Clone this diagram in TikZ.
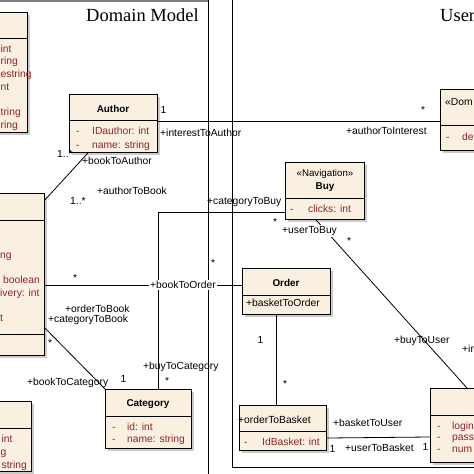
\documentclass[tikz,border=0pt]{standalone}
\usepackage{fontspec}
\setmainfont{Liberation Sans}
\newfontfamily\titlefont{Liberation Serif}
\usetikzlibrary{positioning}
\usetikzlibrary{shadows}
\definecolor{boxfill}{RGB}{250,240,226}
\definecolor{attrred}{RGB}{140,38,38}
\newcommand{\attrdash}[1]{\makebox[#1][l]{-}}

\begin{document}
\begin{tikzpicture}[x=1pt, y=-1pt,
  cls/.style={draw, fill=boxfill, anchor=north west, inner sep=0pt, line width=0.9pt,
    drop shadow={shadow xshift=2.5pt, shadow yshift=-2.5pt, fill=black!45, opacity=0.45}},
  txt/.style={font=\fontsize{10.3}{12.7}\selectfont, inner sep=0pt},
  lbl/.style={txt, anchor=base west},
  onl/.style={lbl, fill=white, inner sep=1pt},
  attr/.style={txt, anchor=north west, align=left, text=attrred},
  cname/.style={txt, font=\fontsize{9.9}{12.7}\selectfont\bfseries},
  assoc/.style={line width=0.8pt},
  frame/.style={line width=0.9pt},
  ttl/.style={anchor=base west, inner sep=0pt, font=\titlefont\fontsize{18.5}{20}\selectfont}]
\useasboundingbox (0,0) rectangle (474,474);
\clip (0,0) rectangle (474,474);
\fill[white] (0,0) rectangle (474,474);

% frames
\draw[gray, line width=2pt] (-5,0.5) -- (208,0.5);
\draw[frame] (208,-5) -- (208,480);
\draw[frame] (232,-5) -- (232,467) -- (480,467);
\node[ttl] (domtitle) at (86,21) {Domain Model};
\node[ttl] (usertitle) at (440,21) {User};

% classes
\node[cls, minimum width=87pt, minimum height=120pt] (profile) at (-60,12) {};
\draw (profile.west |- 0,38) -- (profile.east |- 0,38);
\node[cls, minimum width=88pt, minimum height=58pt] (author) at (69,94) {};
\draw (author.west |- 0,120) -- (author.east |- 0,120);
\node[cls, minimum width=104pt, minimum height=162pt] (book) at (-60,193) {};
\draw (book.west |- 0,220) -- (book.east |- 0,220);
\draw (book.west |- 0,334) -- (book.east |- 0,334);
\node[cls, minimum width=91pt, minimum height=70pt] (publisher) at (-60,401) {};
\draw (publisher.west |- 0,428) -- (publisher.east |- 0,428);
\node[cls, minimum width=86pt, minimum height=59pt] (category) at (105,389) {};
\draw (category.west |- 0,416) -- (category.east |- 0,416);
\node[cls, minimum width=79pt, minimum height=57pt] (buy) at (285,162) {};
\draw (buy.west |- 0,198) -- (buy.east |- 0,198);
\node[cls, minimum width=88pt, minimum height=46pt] (order) at (242,268) {};
\draw (order.west |- 0,295) -- (order.east |- 0,295);
\node[cls, minimum width=87pt, minimum height=45pt] (basket) at (239,405) {};
\draw (basket.west |- 0,431) -- (basket.east |- 0,431);
\node[cls, minimum width=80pt, minimum height=74pt] (user) at (430,388) {};
\draw (user.west |- 0,415) -- (user.east |- 0,415);
\node[cls, minimum width=60pt, minimum height=61pt] (interest) at (440,89) {};
\draw (interest.west |- 0,125) -- (interest.east |- 0,125);

% associations
\draw[assoc] (author.east |- 0,121) -- (interest.west |- 0,121);
\draw[assoc] (88,0 |- author.south) -- (book.east |- 0,200);
\draw[assoc] (book.east |- 0,285) -- (order.west |- 0,285);
\draw[assoc] (book.east |- 0,328) -- (category.north west);
\draw[assoc] (158,0 |- category.north) |- (buy.west |- 0,212);
\draw[assoc] (316,0 |- buy.south) -- (467,0 |- user.north);
\draw[assoc] (276,0 |- order.south) -- (276,0 |- basket.north);
\draw[assoc] (basket.east |- 0,438) -- (user.west |- 0,437);

% class texts
\node[attr] (profileattr) at (0.5,44.4) {int\\ring\\estring\\nt\\~\\tring\\ring};
\node[cname] (authorname) at (113,109) {Author};
\node[attr, font=\fontsize{10.3}{14}\selectfont] (authorattr) at (76,126.4)
  {\attrdash{16pt}IDauthor: int\\\attrdash{16pt}name: string};
\node[attr] (bookattr) at (0,252.4) {ng\\~\\\hspace{3pt}boolean\\ivery: int\\~\\t};
\node[attr, font=\fontsize{10.3}{13}\selectfont] (publisherattr) at (0.5,434.4)
  {\hspace{1pt}int\\g\\\hspace{1pt}string};
\node[cname] (categoryname) at (148,404) {Category};
\node[attr, font=\fontsize{10.3}{12}\selectfont] (categoryattr) at (112,422.4)
  {\attrdash{15pt}id: int\\\attrdash{15pt}name: string};
\node[txt, font=\fontsize{9.7}{12}\selectfont] (buystereo) at (325,174) {«Navigation»};
\node[cname] (buyname) at (325,187) {Buy};
\node[attr] (buyattr) at (290,204.4) {\attrdash{18pt}clicks: int};
\node[cname] (ordername) at (286,283) {Order};
\node[lbl] (orderop) at (246,306.5) {+basketToOrder};
\node[lbl] (basketop) at (238,423.5) {+orderToBasket};
\node[attr] (basketattr) at (244,437.4) {\attrdash{18pt}IdBasket: int};
\node[attr, font=\fontsize{10.3}{11.5}\selectfont] (userattr) at (437,421.4)
  {\attrdash{15pt}login\\\attrdash{15pt}pass\\\attrdash{15pt}num};
\node[lbl] (intereststereo) at (445,105.5) {«Dom};
\node[attr] (interestattr) at (446,132.4) {\attrdash{16pt}de};

% role names and multiplicities
\node[lbl] (m1) at (160.5,113.5) {1};
\node[lbl] (r1) at (160,136.5) {+interestToAuthor};
\node[lbl] (m2) at (421,113) {*};
\node[lbl] (r2) at (346,134.5) {+authorToInterest};
\node[lbl] (m3) at (57,157.5) {1..*};
\node[lbl] (r3) at (82,164.5) {+bookToAuthor};
\node[lbl] (r4) at (97,194.5) {+authorToBook};
\node[lbl] (m4) at (70,204.5) {1..*};
\node[lbl] (r5) at (207,204.5) {+categoryToBuy};
\node[lbl] (m5) at (273,225) {*};
\node[onl] (r6) at (281,233.5) {+userToBuy};
\node[lbl] (m6) at (347,244) {*};
\node[lbl] (m7) at (211,266) {*};
\node[lbl] (m8) at (73,281) {*};
\node[onl] (r7) at (149,288.5) {+bookToOrder};
\node[lbl] (r8) at (65,312.5) {+orderToBook};
\node[lbl] (r9) at (48,322) {+categoryToBook};
\node[lbl] (m9) at (48,346) {*};
\node[lbl] (m10) at (257.5,343.5) {1};
\node[lbl] (r10) at (394,343.5) {+buyToUser};
\node[lbl] (r11) at (462,352.5) {+in};
\node[lbl] (r12) at (143,369.5) {+buyToCategory};
\node[lbl] (m11) at (165,384) {*};
\node[lbl] (m12) at (283,387) {*};
\node[lbl] (r13) at (27,385.5) {+bookToCategory};
\node[lbl] (m13) at (120.5,382.5) {1};
\node[lbl] (r14) at (333,426.5) {+basketToUser};
\node[lbl] (m14) at (329.5,452.5) {1};
\node[lbl] (r15) at (345,451.5) {+userToBasket};
\node[lbl] (m15) at (422.5,450.5) {1};
\end{tikzpicture}
\end{document}
